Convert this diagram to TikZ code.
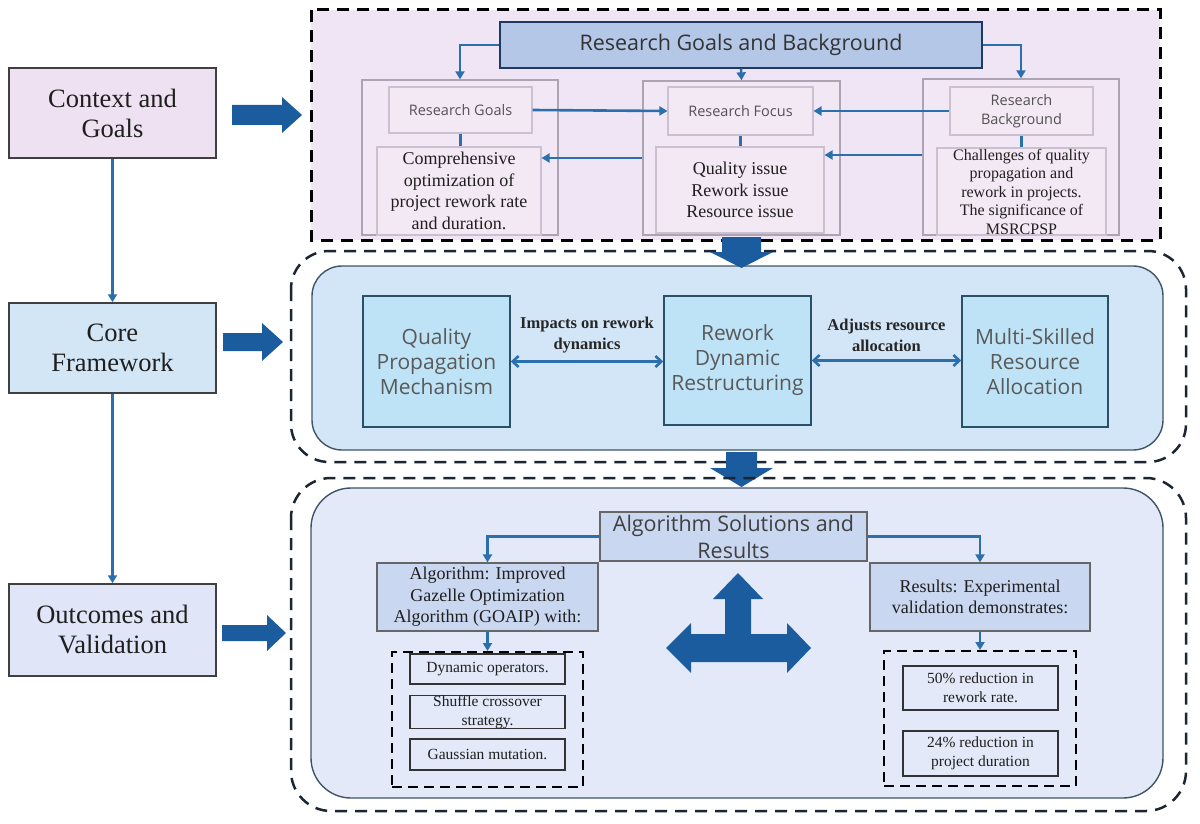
\documentclass[tikz,border=0pt]{standalone}
\usepackage{fontspec}
\setmainfont{Liberation Serif}
\newfontfamily\sansf{Open Sans}
\usetikzlibrary{arrows.meta}
\definecolor{ctxfill}{HTML}{EEE1F2}
\definecolor{corefill}{HTML}{D3E6F6}
\definecolor{outfill}{HTML}{E0E6F7}
\definecolor{panelA}{HTML}{F0E5F4}
\definecolor{hdrfill}{HTML}{B4C7E7}
\definecolor{hdrdraw}{HTML}{1F3864}
\definecolor{colfill}{HTML}{F2E8F5}
\definecolor{coldraw}{HTML}{ACA4B2}
\definecolor{infill}{HTML}{F3E9F4}
\definecolor{indraw}{HTML}{CBBFD0}
\definecolor{bluearr}{HTML}{1A5C9E}
\definecolor{conncol}{HTML}{2B6FAC}
\definecolor{midfill}{HTML}{D3E6F7}
\definecolor{mechfill}{HTML}{BEE3F6}
\definecolor{mechdraw}{HTML}{2A5068}
\definecolor{botfill}{HTML}{E3E9F8}
\definecolor{algfill}{HTML}{C9D7F0}
\definecolor{paneldraw}{HTML}{3F5566}
\definecolor{dashcol}{HTML}{1C2633}
\begin{document}
\begin{tikzpicture}[x=1pt,y=-1pt,
  box/.style={rectangle, inner sep=0pt, align=center, text=black!88},
  leftbox/.style={box, draw=black!75, line width=1.5pt, minimum width=207pt,
     font=\fontsize{26.5}{30}\selectfont},
  colbox/.style={box, fill=colfill, draw=coldraw, line width=1.3pt},
  inbox/.style={box, fill=infill, draw=indraw, line width=1.1pt},
  smallsans/.style={font=\sansf\fontsize{14.5}{19}\selectfont, text=black!68},
  serifmid/.style={font=\fontsize{18}{21.5}\selectfont},
  mech/.style={box, fill=mechfill, draw=mechdraw, line width=1.4pt,
     font=\sansf\fontsize{21}{25}\selectfont, text=black!65},
  algbox/.style={box, fill=algfill, draw=black!60, line width=1.2pt},
  opbox/.style={box, draw=black!80, line width=1.4pt, minimum width=155pt,
     font=\fontsize{15.5}{19}\selectfont},
  dashbox/.style={box, draw=black, line width=2pt, dash pattern=on 10pt off 6pt},
  conn/.style={draw=conncol, line width=2.6pt, -{Triangle[length=8pt,width=9pt]}},
  plainconn/.style={draw=conncol, line width=2.6pt},
  dconn/.style={draw=conncol, line width=2.6pt, {Straight Barb[length=6pt,width=11pt]}-{Straight Barb[length=6pt,width=11pt]}},
  lbl/.style={inner sep=0pt, align=center, font=\bfseries\fontsize{16.5}{21}\selectfont, text=black!85},
  barrow/.style={fill=bluearr, draw=none}
]
\useasboundingbox[fill=white] (0,0) rectangle (1200,824);

% ---------- left column ----------
\node[leftbox, fill=ctxfill, minimum height=90pt] (ctx) at (112.5,113) {Context and\\Goals};
\node[leftbox, fill=corefill, minimum height=90pt] (core) at (112.5,348) {Core\\Framework};
\node[leftbox, fill=outfill, minimum height=92pt] (outc) at (112.5,630) {Outcomes and\\Validation};
\draw[conn] (ctx.south) -- (core.north);
\draw[conn] (core.south) -- (outc.north);

% block arrows to the right
\fill[barrow] (232,105) -- (282,105) -- (282,97) -- (302,115) -- (282,133) -- (282,125) -- (232,125) -- cycle;
\fill[barrow] (223,333) -- (262,333) -- (262,323) -- (283,342) -- (262,361) -- (262,351) -- (223,351) -- cycle;
\fill[barrow] (222,625) -- (267,625) -- (267,615) -- (286,633) -- (267,651) -- (267,641) -- (222,641) -- cycle;

% ---------- top panel ----------
\draw[fill=panelA, draw=black, line width=3pt, dash pattern=on 12pt off 8pt] (311,10) rectangle (1160,240);
\node[box, fill=hdrfill, draw=hdrdraw, line width=1.5pt, minimum width=482pt, minimum height=46pt,
      font=\sansf\fontsize{21.5}{25}\selectfont, text=black!80] (hdr) at (741,45) {Research Goals and Background};

\node[colbox, minimum width=196pt, minimum height=155pt] (colL) at (460,157.5) {};
\node[colbox, minimum width=197pt, minimum height=154pt] (colM) at (741.5,158) {};
\node[colbox, minimum width=196pt, minimum height=156pt] (colR) at (1021,157) {};

\node[inbox, smallsans, minimum width=143pt, minimum height=46pt] (rg) at (460.5,110) {Research Goals};
\node[inbox, smallsans, minimum width=145pt, minimum height=48pt] (rf) at (740.5,111) {Research Focus};
\node[inbox, smallsans, minimum width=143pt, minimum height=48pt] (rb) at (1021.5,111) {Research\\Background};

\node[inbox, serifmid, minimum width=164pt, minimum height=88pt] (cL) at (459,191) {Comprehensive\\optimization of\\project rework rate\\and duration.};
\node[inbox, serifmid, minimum width=168pt, minimum height=86pt] (cM) at (740,190) {Quality issue\\Rework issue\\Resource issue};
\node[inbox, minimum width=169pt, minimum height=87pt, font=\fontsize{16}{18.5}\selectfont] (cR) at (1021.5,191.5)
   {Challenges of quality\\propagation and\\rework in projects.\\The significance of\\MSRCPSP};

\draw[conn] (hdr.west) -| (colL.north);
\draw[conn] (hdr.south) -- (colM.north);
\draw[conn] (hdr.east) -| (colR.north);
\draw[conn] (rg.east) -- (rf.west);
\draw[conn] (rb.west) -- (rf.east);
\draw[conn] (colM.west) -- (cL.east |- colM.west);
\draw[conn] ([yshift=2pt]colR.west) -- ([yshift=2pt]cM.east |- colR.west);
\draw[plainconn] (rg.south) -- (rg.south |- cL.north);
\draw[plainconn] (rf.south) -- (rf.south |- cM.north);
\draw[plainconn] (rb.south) -- (rb.south |- cR.north);

% ---------- middle panel ----------
\draw[draw=dashcol, line width=2.5pt, dash pattern=on 12pt off 8pt, rounded corners=38pt] (291,251) rectangle (1186,462);
\draw[fill=midfill, draw=paneldraw, line width=1.4pt, rounded corners=30pt] (312,266) rectangle (1163,450);
\node[mech, minimum width=147pt, minimum height=131pt] (qpm) at (436.5,361.5) {Quality\\Propagation\\Mechanism};
\node[mech, minimum width=147pt, minimum height=129pt] (rdr) at (737.5,360.5) {Rework\\Dynamic\\Restructuring};
\node[mech, minimum width=146pt, minimum height=131pt] (msr) at (1035,361.5) {Multi-Skilled\\Resource\\Allocation};
\draw[dconn] (qpm.east) -- (rdr.west |- qpm.east);
\draw[dconn] (rdr.east) -- (msr.west |- rdr.east);
\node[lbl] (l1) at (587,335) {Impacts on rework\\dynamics};
\node[lbl] (l2) at (886.5,335) {Adjusts resource\\allocation};

% block arrows between panels
\fill[barrow] (722,237) -- (761,237) -- (761,252) -- (773,252) -- (741.5,268) -- (710,252) -- (722,252) -- cycle;
\fill[barrow] (726,452) -- (757,452) -- (757,468) -- (773,468) -- (741.5,487) -- (710,468) -- (726,468) -- cycle;

% ---------- bottom panel ----------
\draw[draw=dashcol, line width=2.5pt, dash pattern=on 12pt off 8pt, rounded corners=40pt] (291,478) rectangle (1186,811);
\draw[fill=botfill, draw=paneldraw, line width=1.4pt, rounded corners=40pt] (311,488) rectangle (1163,798);

\node[algbox, minimum width=267pt, minimum height=49pt, font=\sansf\fontsize{21.5}{27}\selectfont, text=black!75] (asr) at (733.5,536.5)
   {Algorithm Solutions and\\Results};
\node[algbox, minimum width=221pt, minimum height=68pt, serifmid] (alg) at (487.5,597)
   {Algorithm: Improved\\Gazelle Optimization\\Algorithm (GOAIP) with:};
\node[algbox, minimum width=220pt, minimum height=68pt, serifmid] (res) at (980,597)
   {Results: Experimental\\validation demonstrates:};

\node[dashbox, minimum width=191pt, minimum height=135pt] (dbL) at (487.5,719.5) {};
\node[opbox, minimum height=30pt] (op1) at (487.5,669) {Dynamic operators.};
\node[opbox, minimum height=30pt] (op2) at (487.5,712) {Shuffle crossover\\strategy.};
\node[opbox, minimum height=31pt] (op3) at (487.5,754.5) {Gaussian mutation.};

\node[dashbox, minimum width=192pt, minimum height=135pt] (dbR) at (980,718.5) {};
\node[opbox, minimum height=44pt] (r1) at (980.5,688) {50\% reduction in\\rework rate.};
\node[opbox, minimum height=45pt] (r2) at (980.5,753.5) {24\% reduction in\\project duration};

\draw[conn] (asr.west) -| (alg.north);
\draw[conn] (asr.east) -| (res.north);
\draw[conn] (alg.south) -- (dbL.north);
\draw[conn] (res.south) -- (dbR.north);

% three-way block arrow
\fill[barrow] (738,573) -- (763,599) -- (751,599) -- (751,634) -- (787,634) -- (787,623) -- (811,648)
  -- (787,673) -- (787,662) -- (691,662) -- (691,673) -- (666,648) -- (691,623) -- (691,634)
  -- (725,634) -- (725,599) -- (713,599) -- cycle;
\end{tikzpicture}
\end{document}
